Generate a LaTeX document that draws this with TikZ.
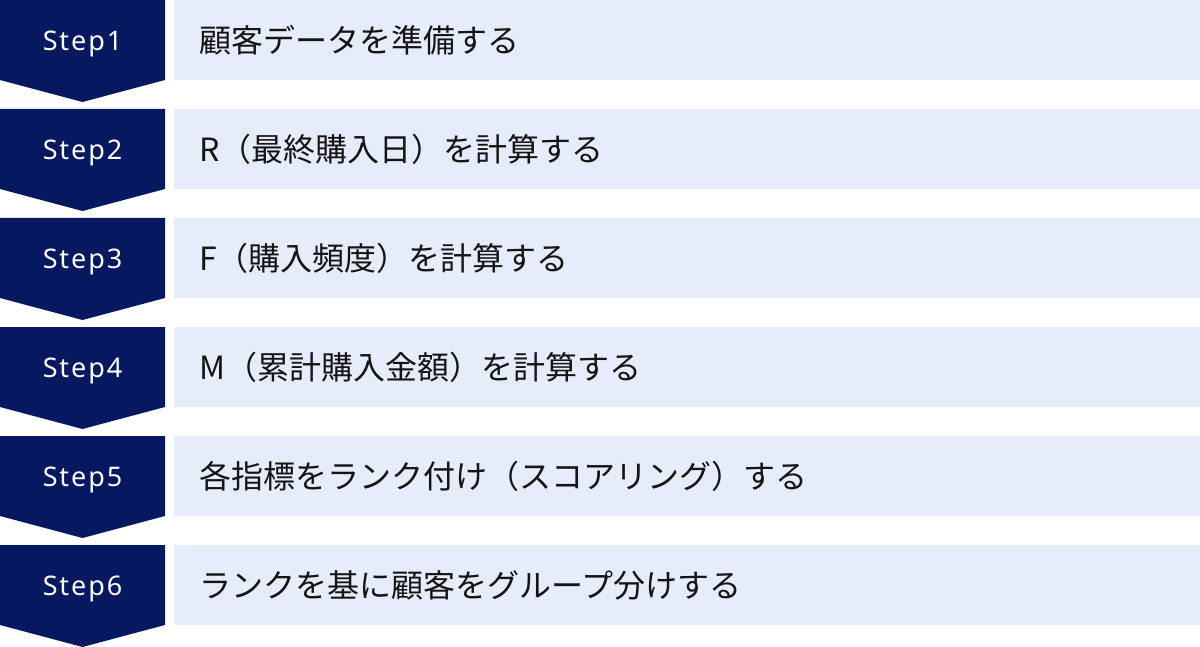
\documentclass[tikz,border=0pt]{standalone}
\usepackage{fontspec}
\setmainfont{Noto Sans CJK JP}
\newfontfamily\stepfont[LetterSpace=7]{Noto Sans}
\newfontfamily\jpfont{Noto Sans CJK JP}
\definecolor{navy}{RGB}{5,24,96}
\definecolor{pale}{RGB}{230,236,249}
\definecolor{ink}{RGB}{20,20,20}
\tikzset{
  chevron/.style={fill=navy, draw=none},
  bar/.style={fill=pale, draw=none},
  steplabel/.style={text=white, font=\stepfont\fontsize{27}{30}\selectfont, inner sep=0pt, anchor=base},
  tasklabel/.style={text=ink, font=\jpfont\fontsize{32}{36}\selectfont, inner sep=0pt, anchor=west}
}
\begin{document}
\begin{tikzpicture}[x=1pt,y=-1pt]
\useasboundingbox (0,0) rectangle (1200,647);
\foreach \i/\task in {0/{顧客データを準備する},1/{R（最終購入日）を計算する},2/{F（購入頻度）を計算する},3/{M（累計購入金額）を計算する},4/{各指標をランク付け（スコアリング）する},5/{ランクを基に顧客をグループ分けする}}{
  \pgfmathsetmacro{\yt}{\i*109}
  \pgfmathtruncatemacro{\n}{\i+1}
  \path[chevron] (0,\yt) -- (165,\yt) -- (165,\yt+80) -- (82.5,\yt+102) -- (0,\yt+80) -- cycle;
  \path[bar] (174,\yt) rectangle (1200,\yt+80);
  \node[steplabel] (s\n) at (82.5,\yt+50.5) {Step\n};
  \node[tasklabel] (t\n) at (199,\yt+40) {\task};
}
\end{tikzpicture}
\end{document}
